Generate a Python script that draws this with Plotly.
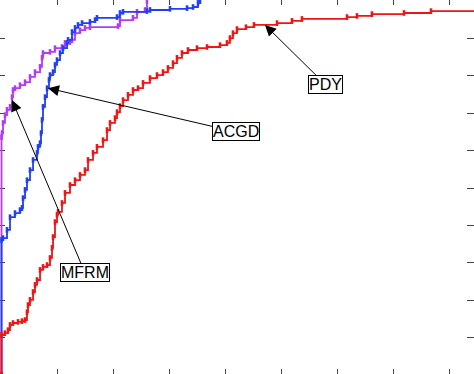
import plotly.graph_objects as go

# Performance-profile style step curves (x: log2 tau, y: fraction of problems)
pdy_x = [0, 0, 0.06, 0.116, 0.152, 0.205, 0.295, 0.366, 0.420, 0.455, 0.473, 0.509, 0.563,
         0.598, 0.634, 0.688, 0.741, 0.813, 0.866, 0.902, 0.920, 0.955, 0.991, 1.009, 1.080,
         1.134, 1.223, 1.313, 1.402, 1.491, 1.545, 1.634, 1.705, 1.813, 1.884, 1.938, 2.027,
         2.063, 2.116, 2.170, 2.259, 2.348, 2.438, 2.527, 2.652, 2.777, 2.884, 2.973, 3.063,
         3.134, 3.223, 3.330, 3.491, 3.670, 3.902, 4.027, 4.080, 4.134, 4.205, 4.366, 4.509,
         4.920, 5.188, 5.366, 6.170, 6.348, 6.616, 7.188, 7.670, 8.6]
pdy_y = [0, 0.107, 0.112, 0.120, 0.134, 0.139, 0.142, 0.144, 0.147, 0.168, 0.187, 0.201, 0.222,
         0.241, 0.254, 0.281, 0.289, 0.294, 0.313, 0.340, 0.369, 0.409, 0.428, 0.436, 0.460,
         0.487, 0.508, 0.521, 0.535, 0.548, 0.575, 0.594, 0.610, 0.628, 0.655, 0.674, 0.687,
         0.703, 0.719, 0.735, 0.749, 0.762, 0.767, 0.781, 0.794, 0.802, 0.810, 0.821, 0.834,
         0.848, 0.861, 0.869, 0.874, 0.877, 0.882, 0.888, 0.901, 0.914, 0.925, 0.930, 0.936,
         0.941, 0.947, 0.952, 0.957, 0.960, 0.965, 0.968, 0.973, 0.973]

acgd_x = [0, 0, 0.027, 0.098, 0.152, 0.241, 0.330, 0.366, 0.384, 0.420, 0.455, 0.509, 0.563,
          0.634, 0.652, 0.688, 0.705, 0.723, 0.741, 0.777, 0.813, 0.848, 0.866, 0.920, 0.955,
          0.991, 1.045, 1.098, 1.170, 1.188, 1.259, 1.313, 1.366, 1.438, 1.580, 1.670, 1.705,
          2.063, 2.116, 2.170, 2.598, 2.652, 3.009, 3.313, 3.420, 3.509, 3.545]
acgd_y = [0, 0.361, 0.366, 0.388, 0.422, 0.433, 0.441, 0.447, 0.473, 0.495, 0.521, 0.548, 0.575,
          0.594, 0.610, 0.620, 0.647, 0.682, 0.717, 0.743, 0.767, 0.789, 0.802, 0.810, 0.829,
          0.842, 0.861, 0.874, 0.888, 0.896, 0.917, 0.928, 0.936, 0.941, 0.944, 0.949, 0.955,
          0.957, 0.968, 0.971, 0.973, 0.976, 0.979, 0.981, 0.984, 0.995, 1.0]

mfrm_x = [0, 0, 0.009, 0.027, 0.0625, 0.098, 0.152, 0.1875, 0.205, 0.241, 0.330, 0.420, 0.509,
          0.598, 0.688, 0.723, 0.741, 0.866, 0.955, 1.080, 1.134, 1.223, 1.259, 1.313, 1.402,
          1.491, 1.580, 2.080, 2.116, 2.348, 2.420, 2.563, 2.598]
mfrm_y = [0, 0.636, 0.647, 0.674, 0.695, 0.709, 0.717, 0.743, 0.762, 0.767, 0.775, 0.783, 0.797,
          0.810, 0.824, 0.848, 0.861, 0.864, 0.874, 0.877, 0.888, 0.890, 0.896, 0.914, 0.922,
          0.928, 0.930, 0.933, 0.949, 0.955, 0.971, 0.976, 1.0]

x_ticks = [1, 2, 3, 4, 5, 6, 7, 8]
y_ticks = [0.1, 0.2, 0.3, 0.4, 0.5, 0.6, 0.7, 0.8, 0.9]

XR = [-0.027, 8.438]
YR = [0.0027, 1.0027]

fig = go.Figure()
series = [("MFRM", mfrm_x, mfrm_y, "#b03cf5"),
          ("ACGD", acgd_x, acgd_y, "#2040f5"),
          ("PDY", pdy_x, pdy_y, "#f01414")]
for name, xs, ys, col in series:
    fig.add_trace(go.Scatter(x=xs, y=ys, mode="lines+markers", name=name,
                             line=dict(color=col, width=1.8, shape="hv"),
                             marker=dict(symbol="line-ns", size=4,
                                         line=dict(color=col, width=2.6)),
                             showlegend=False, hoverinfo="skip"))

# invisible trace to anchor mirrored tick axes
fig.add_trace(go.Scatter(x=[1], y=[0.5], xaxis="x2", yaxis="y2", mode="markers",
                         marker=dict(opacity=0), showlegend=False, hoverinfo="skip"))

axis_common = dict(showgrid=False, zeroline=False, showticklabels=False,
                   ticks="inside", tickcolor="#444", tickwidth=1)
fig.update_layout(
    width=474, height=374,
    margin=dict(l=0, r=0, t=0, b=0),
    paper_bgcolor="white", plot_bgcolor="white",
    xaxis=dict(range=XR, side="top", tickvals=x_ticks, ticklen=5,
               showline=True, linecolor="#5a5a5a", linewidth=4, layer="below traces",
               **axis_common),
    yaxis=dict(range=YR, side="left", tickvals=y_ticks, ticklen=5,
               showline=True, linecolor="#5a5a5a", linewidth=4, layer="below traces",
               **axis_common),
    xaxis2=dict(range=XR, overlaying="x", side="bottom", anchor="y2", tickvals=x_ticks,
                ticklen=5, showline=False, **axis_common),
    yaxis2=dict(range=YR, overlaying="y", side="right", anchor="x2", tickvals=y_ticks,
                ticklen=7, showline=False, **axis_common),
)

ann_font = dict(family="Liberation Sans, Arial, sans-serif", size=16, color="black")
annots = [
    ("PDY", 4.705, 0.936, 5.777, 0.778),
    ("ACGD", 0.830, 0.767, 4.188, 0.650),
    ("MFRM", 0.1875, 0.735, 1.491, 0.273),
]
for text, tx, ty, bx, by in annots:
    fig.add_annotation(x=tx, y=ty, ax=bx, ay=by, xref="x", yref="y", axref="x", ayref="y",
                       text=text, showarrow=True, arrowhead=2, arrowsize=2.2, arrowwidth=1,
                       arrowcolor="black", font=ann_font, bgcolor="white",
                       bordercolor="black", borderwidth=1, borderpad=0)

fig.write_html("out.html", config={"displayModeBar": False},
               post_script="document.body.style.margin='0';document.body.style.overflow='hidden';")
